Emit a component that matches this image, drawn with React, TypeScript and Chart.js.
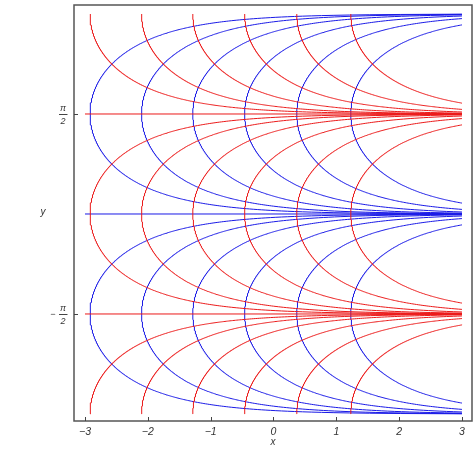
import React, { useEffect, useRef } from "react";
import { Chart, registerables } from "chart.js";

Chart.register(...registerables);

// x position of each contour's vertex; level = e^v
const levelVertexX = [-2.92, -2.1, -1.285, -0.46, 0.37, 1.23];
const xDomain = [-3, 3];
const xTicks = [-3, -2, -1, 0, 1, 2, 3];
const yTickValues = [-Math.PI / 2, Math.PI / 2];
const yTickSigns = ["−", ""];
const blueColor = "rgb(25,25,230)";
const redColor = "rgb(235,25,25)";
const SAMPLES = 700;

type P = { x: number; y: number };

function sampleY(y0: number, y1: number, f: (y: number) => number): P[] {
  const pts: P[] = [];
  for (let i = 0; i <= SAMPLES; i++) {
    const y = y0 + ((y1 - y0) * i) / SAMPLES;
    pts.push({ x: f(y), y });
  }
  return pts;
}

function buildCurves() {
  const xmax = xDomain[1];
  const blue: P[][] = [];
  const red: P[][] = [];
  for (const v of levelVertexX) {
    const k = Math.exp(v - xmax);
    // Im(e^z) = +c : vertex at y = pi/2
    const a = Math.asin(Math.min(1, k));
    blue.push(sampleY(a, Math.PI - a, (y) => v - Math.log(Math.sin(y))));
    // Im(e^z) = -c : vertex at y = -pi/2
    blue.push(sampleY(-Math.PI + a, -a, (y) => v - Math.log(-Math.sin(y))));
    // Re(e^z) = +c : vertex at y = 0
    const b = Math.acos(Math.min(1, k));
    red.push(sampleY(-b, b, (y) => v - Math.log(Math.cos(y))));
    // Re(e^z) = -c : vertex at y = +-pi
    red.push(sampleY(Math.PI - b, Math.PI, (y) => v - Math.log(-Math.cos(y))));
    red.push(sampleY(-Math.PI, -Math.PI + b, (y) => v - Math.log(-Math.cos(y))));
  }
  // zero levels
  blue.push([{ x: xDomain[0], y: 0 }, { x: xDomain[1], y: 0 }]);
  red.push([{ x: xDomain[0], y: Math.PI / 2 }, { x: xDomain[1], y: Math.PI / 2 }]);
  red.push([{ x: xDomain[0], y: -Math.PI / 2 }, { x: xDomain[1], y: -Math.PI / 2 }]);
  return { blue, red };
}

const framePlugin = {
  id: "framePlugin",
  afterDraw(chart: any) {
    const { ctx, chartArea, scales } = chart;
    const { left, right, top, bottom } = chartArea;
    const xs = scales.x;
    const ys = scales.y;
    ctx.save();
    ctx.strokeStyle = "#555";
    ctx.lineWidth = 1.5;
    ctx.strokeRect(left, top, right - left, bottom - top);
    ctx.lineWidth = 1;
    ctx.strokeStyle = "#444";
    for (const v of xTicks) {
      const px = Math.round(xs.getPixelForValue(v)) + 0.5;
      ctx.beginPath();
      ctx.moveTo(px, bottom);
      ctx.lineTo(px, bottom - 4);
      ctx.stroke();
    }
    ctx.fillStyle = "#333";
    ctx.textAlign = "center";
    ctx.textBaseline = "middle";
    yTickValues.forEach((v, i) => {
      const py = Math.round(ys.getPixelForValue(v)) + 0.5;
      ctx.beginPath();
      ctx.moveTo(left, py);
      ctx.lineTo(left + 4, py);
      ctx.stroke();
      ctx.font = 'italic 9px "Liberation Sans"';
      ctx.fillText("π", 63, py - 6.5);
      ctx.fillText("2", 63, py + 7);
      ctx.beginPath();
      ctx.moveTo(59, py);
      ctx.lineTo(67.5, py);
      ctx.stroke();
      if (yTickSigns[i]) ctx.fillText(yTickSigns[i], 53, py);
    });
    ctx.font = 'italic 10px "Liberation Sans"';
    ctx.fillText("x", (left + right) / 2, 442);
    ctx.fillText("y", 43, 212);
    ctx.restore();
  },
};

export default function App() {
  const ref = useRef<HTMLCanvasElement>(null);
  useEffect(() => {
    if (!ref.current) return;
    const { blue, red } = buildCurves();
    const datasets: any[] = [];
    red.forEach((d) =>
      datasets.push({ data: d, borderColor: redColor, borderWidth: 1, pointRadius: 0, showLine: true, fill: false })
    );
    blue.forEach((d) =>
      datasets.push({ data: d, borderColor: blueColor, borderWidth: 1, pointRadius: 0, showLine: true, fill: false })
    );
    const chart = new Chart(ref.current, {
      type: "scatter",
      data: { datasets },
      plugins: [framePlugin],
      options: {
        animation: false,
        responsive: false,
        events: [],
        layout: { padding: { top: 5, right: 2, left: 0, bottom: 0 } },
        plugins: { legend: { display: false }, tooltip: { enabled: false } },
        scales: {
          x: {
            type: "linear",
            min: -3.175,
            max: 3.16,
            afterBuildTicks: (s: any) => {
              s.ticks = xTicks.map((v) => ({ value: v }));
            },
            afterFit: (s: any) => {
              s.height = 33;
            },
            grid: { display: false, drawTicks: false },
            border: { display: false },
            ticks: {
              padding: 5,
              color: "#333",
              font: { family: "Liberation Sans", style: "italic", size: 10.5 },
              callback: (v: any) => (v < 0 ? "−" + Math.abs(v) : String(v)),
              maxRotation: 0,
            },
          },
          y: {
            type: "linear",
            min: -3.252,
            max: 3.283,
            afterBuildTicks: (s: any) => {
              s.ticks = yTickValues.map((v) => ({ value: v }));
            },
            afterFit: (s: any) => {
              s.width = 74;
            },
            grid: { display: false, drawTicks: false },
            border: { display: false },
            ticks: { display: false },
          },
        },
      },
    });
    return () => chart.destroy();
  }, []);
  return (
    <canvas
      ref={ref}
      width={474}
      height={454}
      style={{ position: "fixed", left: 0, top: 0, width: 474, height: 454, display: "block" }}
    />
  );
}
